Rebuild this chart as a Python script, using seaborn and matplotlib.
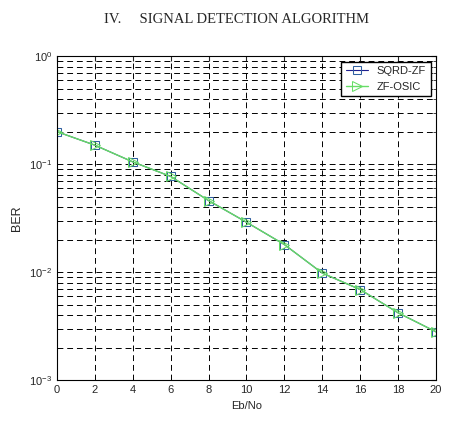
import matplotlib
matplotlib.use("Agg")
import matplotlib.pyplot as plt
import seaborn as sns
import pandas as pd

ebno = [0, 2, 4, 6, 8, 10, 12, 14, 16, 18, 20]
sqrd_zf = [0.2, 0.15, 0.105, 0.077, 0.046, 0.029, 0.018, 0.0098, 0.0069, 0.0042, 0.0028]
zf_osic = [0.2, 0.15, 0.105, 0.077, 0.046, 0.029, 0.018, 0.0098, 0.0069, 0.0042, 0.0028]

sns.set_style("white")
plt.rcParams['font.family'] = ['Liberation Sans', 'DejaVu Sans']
fig = plt.figure(figsize=(4.74, 4.32), dpi=100)
ax = fig.add_axes([0.12, 0.12, 0.80, 0.75])
df = pd.DataFrame({"x": ebno, "a": sqrd_zf, "b": zf_osic})
sns.lineplot(data=df, x="x", y="a", ax=ax, color="#1f1f8f", marker="s", markersize=6,
             markerfacecolor="none", markeredgecolor="#3060a0", linewidth=0.8, label="SQRD-ZF")
sns.lineplot(data=df, x="x", y="b", ax=ax, color="#66dd66", marker=">", markersize=7,
             markerfacecolor="none", markeredgecolor="#66dd66", linewidth=1.0, label="ZF-OSIC")
ax.set_yscale("log")
ax.set_xlim(0, 20)
ax.set_ylim(1e-3, 1)
ax.set_xticks(range(0, 21, 2))
ax.grid(True, which="both", linestyle=(0, (6, 4)), color="black", linewidth=0.7)
for s in ax.spines.values():
    s.set_color("black"); s.set_linewidth(0.8)
ax.tick_params(direction="in", which="both", labelsize=8, top=True, right=True)
ax.set_xlabel("Eb/No", fontsize=8)
ax.set_ylabel("BER", fontsize=9)
leg = ax.legend(loc="upper right", fontsize=8, fancybox=False, framealpha=1, edgecolor="black")
fig.text(0.5, 0.955, "IV.     S", fontsize=11, family="Liberation Serif", ha="right", va="center")
fig.text(0.5, 0.955, "IGNAL D", fontsize=11, family="Liberation Serif", ha="left", va="center")
fig.suptitle("IV.     SIGNAL DETECTION ALGORITHM", fontsize=11, family="Liberation Serif", y=0.955, va="center", alpha=0)
fig.texts[:] = []
fig.text(0.5, 0.955, "IV.     SIGNAL DETECTION ALGORITHM", fontsize=10.5, family="Liberation Serif", ha="center", va="center")
fig.savefig("out.png", dpi=100)
